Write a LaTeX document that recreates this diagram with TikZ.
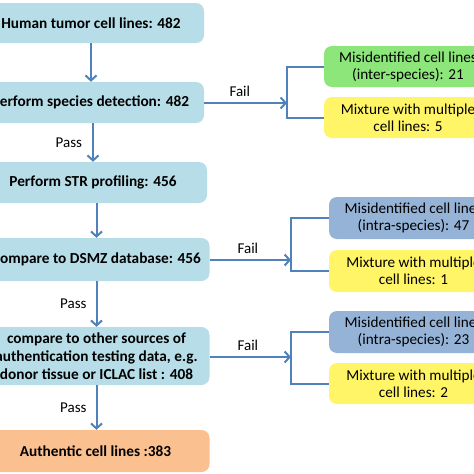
\documentclass[tikz,border=0pt]{standalone}
\usepackage{fontspec}
\setmainfont{Carlito}
\usetikzlibrary{arrows.meta}
\definecolor{leftblue}{HTML}{B7DEE8}
\definecolor{orangebox}{HTML}{FAC090}
\definecolor{greenbox}{HTML}{8CE67A}
\definecolor{yellowbox}{HTML}{FFF566}
\definecolor{bluebox}{HTML}{95B3D7}
\definecolor{arrowblue}{HTML}{4F81BD}
\tikzset{
  mainbox/.style={fill=leftblue, rounded corners=8pt, inner sep=0pt, align=center,
    font=\fontsize{15.3}{18.3}\selectfont\bfseries},
  sidebox/.style={rounded corners=8pt, inner sep=0pt, align=center,
    font=\fontsize{15.2}{17}\selectfont, minimum width=169pt, minimum height=42pt},
  flow/.style={draw=arrowblue, line width=2pt, -{Straight Barb[length=5pt,width=11pt,line width=2pt]}},
  bracket/.style={draw=arrowblue, line width=2pt},
  lbl/.style={font=\fontsize{15}{18}\selectfont, text=black, inner sep=0pt}
}
\begin{document}
\begin{tikzpicture}[x=1pt,y=-1pt]
\useasboundingbox (0,0) rectangle (474,474);
\clip (0,0) rectangle (474,474);
\fill[white] (0,0) rectangle (474,474);
% left column
\node[mainbox, minimum width=226pt, minimum height=40pt] (b1) at (91,23) {Human tumor cell lines: 482};
\node[mainbox, minimum width=227pt, minimum height=41pt] (b2) at (90.5,102.5) {Perform species detection: 482};
\node[mainbox, minimum width=228pt, minimum height=41pt] (b3) at (93,182.5) {Perform STR profiling: 456};
\node[mainbox, minimum width=226pt, minimum height=43pt] (b4) at (96.5,259.5) {Compare to DSMZ database: 456};
\node[mainbox, minimum width=226pt, minimum height=58pt] (b5) at (96.5,356) {compare to other sources of\\authentication testing data, e.g.\\donor tissue or ICLAC list : 408};
\node[mainbox, fill=orangebox, minimum width=228pt, minimum height=42pt] (b6) at (95.5,451) {Authentic cell lines :383};
% right column
\node[sidebox, fill=greenbox, minimum width=168pt, minimum height=41pt] (g1) at (408,66.5) {Misidentified cell lines\\(inter-species): 21};
\node[sidebox, fill=yellowbox, minimum width=168pt, minimum height=41pt] (y1) at (408,117.5) {Mixture with multiple\\cell lines: 5};
\node[sidebox, fill=bluebox] (m2) at (413.5,218) {Misidentified cell lines\\(intra-species): 47};
\node[sidebox, fill=yellowbox] (y2) at (413.5,271) {Mixture with multiple\\cell lines: 1};
\node[sidebox, fill=bluebox] (m3) at (413.5,332) {Misidentified cell lines\\(intra-species): 23};
\node[sidebox, fill=yellowbox, minimum height=41pt] (y3) at (413.5,383.5) {Mixture with multiple\\cell lines: 2};
% vertical flow
\draw[flow] (b1.south) -- (b1.south |- b2.north);
\draw[flow] (b3.north |- b2.south) -- (b3.north) node[lbl, midway, left=10pt] {Pass};
\draw[flow] (b4.north |- b3.south) -- (b4.north);
\draw[flow] (b4.south) -- (b5.north) node[lbl, midway, left=9pt] {Pass};
\draw[flow] (b5.south) -- (b5.south |- b6.north) node[lbl, midway, left=9pt] {Pass};
% fail branches
\coordinate (j1) at (287,103);
\coordinate (j2) at (291,260);
\coordinate (j3) at (291,357);
\draw[flow] (b2.east |- j1) -- (j1) node[lbl, pos=0.43, above=5pt] {Fail};
\draw[flow] (b4.east |- j2) -- (j2) node[lbl, pos=0.47, above=5pt] {Fail};
\draw[flow] (b5.east |- j3) -- (j3) node[lbl, pos=0.47, above=5pt] {Fail};
\draw[bracket] (g1.west) -| (j1) |- (y1.west);
\draw[bracket] (m2.west) -| (j2) |- (y2.west);
\draw[bracket] (m3.west) -| (j3) |- (y3.west);
\end{tikzpicture}
\end{document}
